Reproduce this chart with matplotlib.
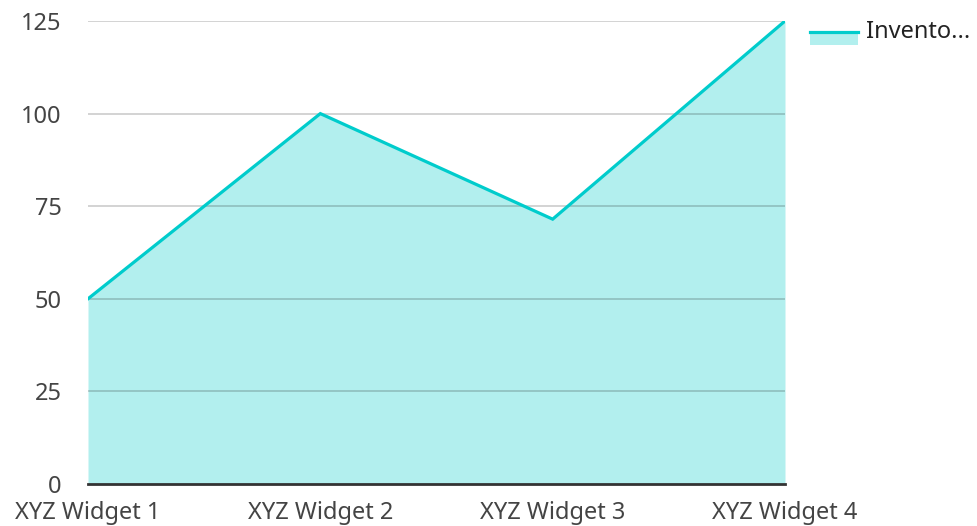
import matplotlib.pyplot as plt
from matplotlib.patches import Rectangle
from matplotlib.lines import Line2D

plt.rcParams['font.family'] = ['Noto Sans', 'DejaVu Sans']

# data
categories = ['XYZ Widget 1', 'XYZ Widget 2', 'XYZ Widget 3', 'XYZ Widget 4']
inventory = [50, 100, 71.5, 125]
y_ticks = [0, 25, 50, 75, 100, 125]
series_name = 'Invento...'

line_color = '#00CCCC'
fill_color = '#B2EFEE'
text_color = '#444444'

W, H = 978, 526
fig = plt.figure(figsize=(W / 100, H / 100), dpi=100)
ax = fig.add_axes([88 / W, (H - 484) / H, (785 - 88) / W, (484 - 21) / H])

x = list(range(len(categories)))
ax.fill_between(x, 0, inventory, color=fill_color, linewidth=0, zorder=1)
ax.plot(x, inventory, color=line_color, linewidth=2.3, zorder=3,
        solid_joinstyle='miter')

ax.set_xlim(0, len(categories) - 1)
ax.set_ylim(0, 125)
ax.set_xticks(x)
ax.set_xticklabels(categories)
ax.set_yticks(y_ticks)

# grid lines drawn over the fill
for v in y_ticks[1:]:
    ax.axhline(v, color='black', alpha=0.2, linewidth=1.2, zorder=2)

for s in ['top', 'right', 'left']:
    ax.spines[s].set_visible(False)
ax.spines['bottom'].set_color('#333333')
ax.spines['bottom'].set_linewidth(2)
ax.spines['bottom'].set_zorder(4)

ax.tick_params(axis='both', length=0, labelsize=17, colors=text_color)
ax.tick_params(axis='y', pad=19)
ax.tick_params(axis='x', pad=12)
ax.set_axisbelow(False)

# legend: filled swatch with line on top
fig.add_artist(Rectangle((810 / W, (H - 45) / H), 48 / W, 13 / H,
                         transform=fig.transFigure, color=fill_color, lw=0))
fig.add_artist(Line2D([810 / W, 858 / W], [(H - 32) / H, (H - 32) / H],
                      transform=fig.transFigure, color=line_color, lw=2.3))
fig.text(866 / W, (H - 32) / H, series_name, fontsize=17, color='#222222',
         va='center', ha='left')

fig.savefig('out.png', dpi=100)
